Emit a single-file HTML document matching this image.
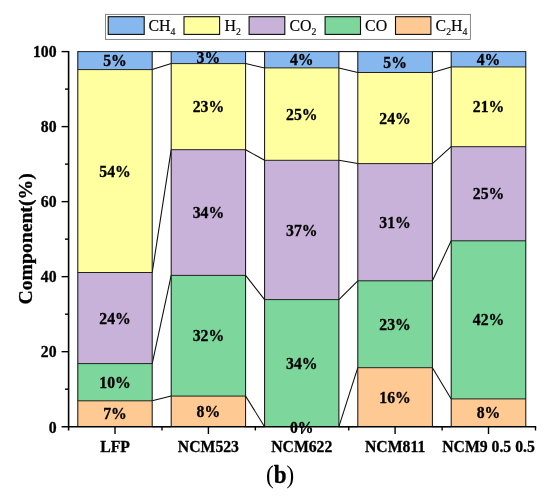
<!DOCTYPE html>
<html lang="en"><head><meta charset="utf-8"><title>Gas component chart (b)</title>
<style>html,body{margin:0;padding:0;background:#fff}body{width:550px;height:497px;overflow:hidden}svg{display:block}text{font-family:"Liberation Serif","Times New Roman",serif;fill:#000}.b{font-weight:bold;stroke:#000;stroke-width:0.3px}</style></head><body>
<svg width="550" height="497" viewBox="0 0 550 497">
<rect x="0" y="0" width="550" height="497" fill="#fff"/>
<rect x="105.5" y="14.4" width="364.9" height="25" fill="#fff" stroke="#7a7a7a" stroke-width="0.9"/>
<rect x="108.2" y="16.7" width="36.0" height="17.7" fill="#86b7ef" stroke="#0c0c0c" stroke-width="1.1"/>
<rect x="184.0" y="16.7" width="35.6" height="17.7" fill="#ffff9f" stroke="#0c0c0c" stroke-width="1.1"/>
<rect x="249.1" y="16.7" width="35.7" height="17.7" fill="#c8b2d9" stroke="#0c0c0c" stroke-width="1.1"/>
<rect x="325.1" y="16.7" width="35.4" height="17.7" fill="#7dd69b" stroke="#0c0c0c" stroke-width="1.1"/>
<rect x="395.5" y="16.7" width="35.4" height="17.7" fill="#ffc993" stroke="#0c0c0c" stroke-width="1.1"/>
<text x="148.4" y="31.1" font-size="15.9" stroke="#000" stroke-width="0.15"><tspan dy="0">CH</tspan><tspan dy="4.3" font-size="9.8">4</tspan></text>
<text x="224.6" y="31.1" font-size="15.9" stroke="#000" stroke-width="0.15"><tspan dy="0">H</tspan><tspan dy="4.3" font-size="9.8">2</tspan></text>
<text x="289.5" y="31.1" font-size="15.9" stroke="#000" stroke-width="0.15"><tspan dy="0">CO</tspan><tspan dy="4.3" font-size="9.8">2</tspan></text>
<text x="365.1" y="31.1" font-size="15.9" stroke="#000" stroke-width="0.15"><tspan dy="0">CO</tspan></text>
<text x="435.6" y="31.1" font-size="15.9" stroke="#000" stroke-width="0.15"><tspan dy="0">C</tspan><tspan dy="4.3" font-size="9.8">2</tspan><tspan dy="-4.3">H</tspan><tspan dy="4.3" font-size="9.8">4</tspan></text>
<line x1="152.2" y1="51.6" x2="171.2" y2="51.6" stroke="#0c0c0c" stroke-width="1.05"/>
<line x1="152.2" y1="69.6" x2="171.2" y2="63.6" stroke="#0c0c0c" stroke-width="1.05"/>
<line x1="152.2" y1="272.5" x2="171.2" y2="149.7" stroke="#0c0c0c" stroke-width="1.05"/>
<line x1="152.2" y1="363.6" x2="171.2" y2="275.4" stroke="#0c0c0c" stroke-width="1.05"/>
<line x1="152.2" y1="400.8" x2="171.2" y2="396.1" stroke="#0c0c0c" stroke-width="1.05"/>
<line x1="152.2" y1="426.7" x2="171.2" y2="426.7" stroke="#0c0c0c" stroke-width="1.05"/>
<line x1="245.6" y1="51.6" x2="264.6" y2="51.6" stroke="#0c0c0c" stroke-width="1.05"/>
<line x1="245.6" y1="63.6" x2="264.6" y2="67.9" stroke="#0c0c0c" stroke-width="1.05"/>
<line x1="245.6" y1="149.7" x2="264.6" y2="160.3" stroke="#0c0c0c" stroke-width="1.05"/>
<line x1="245.6" y1="275.4" x2="264.6" y2="299.6" stroke="#0c0c0c" stroke-width="1.05"/>
<line x1="245.6" y1="396.1" x2="264.6" y2="426.7" stroke="#0c0c0c" stroke-width="1.05"/>
<line x1="245.6" y1="426.7" x2="264.6" y2="426.7" stroke="#0c0c0c" stroke-width="1.05"/>
<line x1="338.9" y1="51.6" x2="357.8" y2="51.6" stroke="#0c0c0c" stroke-width="1.05"/>
<line x1="338.9" y1="67.9" x2="357.8" y2="72.5" stroke="#0c0c0c" stroke-width="1.05"/>
<line x1="338.9" y1="160.3" x2="357.8" y2="163.6" stroke="#0c0c0c" stroke-width="1.05"/>
<line x1="338.9" y1="299.6" x2="357.8" y2="280.8" stroke="#0c0c0c" stroke-width="1.05"/>
<line x1="338.9" y1="426.7" x2="357.8" y2="367.7" stroke="#0c0c0c" stroke-width="1.05"/>
<line x1="338.9" y1="426.7" x2="357.8" y2="426.7" stroke="#0c0c0c" stroke-width="1.05"/>
<line x1="432.4" y1="51.6" x2="451.2" y2="51.6" stroke="#0c0c0c" stroke-width="1.05"/>
<line x1="432.4" y1="72.5" x2="451.2" y2="66.95" stroke="#0c0c0c" stroke-width="1.05"/>
<line x1="432.4" y1="163.6" x2="451.2" y2="146.7" stroke="#0c0c0c" stroke-width="1.05"/>
<line x1="432.4" y1="280.8" x2="451.2" y2="240.8" stroke="#0c0c0c" stroke-width="1.05"/>
<line x1="432.4" y1="367.7" x2="451.2" y2="398.9" stroke="#0c0c0c" stroke-width="1.05"/>
<line x1="432.4" y1="426.7" x2="451.2" y2="426.7" stroke="#0c0c0c" stroke-width="1.05"/>
<rect x="77.8" y="51.6" width="74.4" height="18.00" fill="#86b7ef"/>
<rect x="77.8" y="69.6" width="74.4" height="202.90" fill="#ffff9f"/>
<rect x="77.8" y="272.5" width="74.4" height="91.10" fill="#c8b2d9"/>
<rect x="77.8" y="363.6" width="74.4" height="37.20" fill="#7dd69b"/>
<rect x="77.8" y="400.8" width="74.4" height="25.90" fill="#ffc993"/>
<line x1="77.8" y1="51.6" x2="152.2" y2="51.6" stroke="#0c0c0c" stroke-width="0.9"/>
<line x1="77.8" y1="69.6" x2="152.2" y2="69.6" stroke="#0c0c0c" stroke-width="0.9"/>
<line x1="77.8" y1="272.5" x2="152.2" y2="272.5" stroke="#0c0c0c" stroke-width="0.9"/>
<line x1="77.8" y1="363.6" x2="152.2" y2="363.6" stroke="#0c0c0c" stroke-width="0.9"/>
<line x1="77.8" y1="400.8" x2="152.2" y2="400.8" stroke="#0c0c0c" stroke-width="0.9"/>
<line x1="77.8" y1="51.15" x2="77.8" y2="426.7" stroke="#0c0c0c" stroke-width="1.0"/>
<line x1="152.2" y1="51.15" x2="152.2" y2="426.7" stroke="#0c0c0c" stroke-width="1.0"/>
<rect x="171.2" y="51.6" width="74.4" height="12.00" fill="#86b7ef"/>
<rect x="171.2" y="63.6" width="74.4" height="86.10" fill="#ffff9f"/>
<rect x="171.2" y="149.7" width="74.4" height="125.70" fill="#c8b2d9"/>
<rect x="171.2" y="275.4" width="74.4" height="120.70" fill="#7dd69b"/>
<rect x="171.2" y="396.1" width="74.4" height="30.60" fill="#ffc993"/>
<line x1="171.2" y1="51.6" x2="245.6" y2="51.6" stroke="#0c0c0c" stroke-width="0.9"/>
<line x1="171.2" y1="63.6" x2="245.6" y2="63.6" stroke="#0c0c0c" stroke-width="0.9"/>
<line x1="171.2" y1="149.7" x2="245.6" y2="149.7" stroke="#0c0c0c" stroke-width="0.9"/>
<line x1="171.2" y1="275.4" x2="245.6" y2="275.4" stroke="#0c0c0c" stroke-width="0.9"/>
<line x1="171.2" y1="396.1" x2="245.6" y2="396.1" stroke="#0c0c0c" stroke-width="0.9"/>
<line x1="171.2" y1="51.15" x2="171.2" y2="426.7" stroke="#0c0c0c" stroke-width="1.0"/>
<line x1="245.6" y1="51.15" x2="245.6" y2="426.7" stroke="#0c0c0c" stroke-width="1.0"/>
<rect x="264.6" y="51.6" width="74.3" height="16.30" fill="#86b7ef"/>
<rect x="264.6" y="67.9" width="74.3" height="92.40" fill="#ffff9f"/>
<rect x="264.6" y="160.3" width="74.3" height="139.30" fill="#c8b2d9"/>
<rect x="264.6" y="299.6" width="74.3" height="127.10" fill="#7dd69b"/>
<line x1="264.6" y1="51.6" x2="338.9" y2="51.6" stroke="#0c0c0c" stroke-width="0.9"/>
<line x1="264.6" y1="67.9" x2="338.9" y2="67.9" stroke="#0c0c0c" stroke-width="0.9"/>
<line x1="264.6" y1="160.3" x2="338.9" y2="160.3" stroke="#0c0c0c" stroke-width="0.9"/>
<line x1="264.6" y1="299.6" x2="338.9" y2="299.6" stroke="#0c0c0c" stroke-width="0.9"/>
<line x1="264.6" y1="51.15" x2="264.6" y2="426.7" stroke="#0c0c0c" stroke-width="1.0"/>
<line x1="338.9" y1="51.15" x2="338.9" y2="426.7" stroke="#0c0c0c" stroke-width="1.0"/>
<rect x="357.8" y="51.6" width="74.6" height="20.90" fill="#86b7ef"/>
<rect x="357.8" y="72.5" width="74.6" height="91.10" fill="#ffff9f"/>
<rect x="357.8" y="163.6" width="74.6" height="117.20" fill="#c8b2d9"/>
<rect x="357.8" y="280.8" width="74.6" height="86.90" fill="#7dd69b"/>
<rect x="357.8" y="367.7" width="74.6" height="59.00" fill="#ffc993"/>
<line x1="357.8" y1="51.6" x2="432.4" y2="51.6" stroke="#0c0c0c" stroke-width="0.9"/>
<line x1="357.8" y1="72.5" x2="432.4" y2="72.5" stroke="#0c0c0c" stroke-width="0.9"/>
<line x1="357.8" y1="163.6" x2="432.4" y2="163.6" stroke="#0c0c0c" stroke-width="0.9"/>
<line x1="357.8" y1="280.8" x2="432.4" y2="280.8" stroke="#0c0c0c" stroke-width="0.9"/>
<line x1="357.8" y1="367.7" x2="432.4" y2="367.7" stroke="#0c0c0c" stroke-width="0.9"/>
<line x1="357.8" y1="51.15" x2="357.8" y2="426.7" stroke="#0c0c0c" stroke-width="1.0"/>
<line x1="432.4" y1="51.15" x2="432.4" y2="426.7" stroke="#0c0c0c" stroke-width="1.0"/>
<rect x="451.2" y="51.6" width="74.6" height="15.35" fill="#86b7ef"/>
<rect x="451.2" y="66.95" width="74.6" height="79.75" fill="#ffff9f"/>
<rect x="451.2" y="146.7" width="74.6" height="94.10" fill="#c8b2d9"/>
<rect x="451.2" y="240.8" width="74.6" height="158.10" fill="#7dd69b"/>
<rect x="451.2" y="398.9" width="74.6" height="27.80" fill="#ffc993"/>
<line x1="451.2" y1="51.6" x2="525.8" y2="51.6" stroke="#0c0c0c" stroke-width="0.9"/>
<line x1="451.2" y1="66.95" x2="525.8" y2="66.95" stroke="#0c0c0c" stroke-width="0.9"/>
<line x1="451.2" y1="146.7" x2="525.8" y2="146.7" stroke="#0c0c0c" stroke-width="0.9"/>
<line x1="451.2" y1="240.8" x2="525.8" y2="240.8" stroke="#0c0c0c" stroke-width="0.9"/>
<line x1="451.2" y1="398.9" x2="525.8" y2="398.9" stroke="#0c0c0c" stroke-width="0.9"/>
<line x1="451.2" y1="51.15" x2="451.2" y2="426.7" stroke="#0c0c0c" stroke-width="1.0"/>
<line x1="525.8" y1="51.15" x2="525.8" y2="426.7" stroke="#0c0c0c" stroke-width="1.0"/>
<line x1="68.6" y1="50.9" x2="68.6" y2="430.5" stroke="#000" stroke-width="1.6"/>
<line x1="61.599999999999994" y1="426.7" x2="536.2" y2="426.7" stroke="#000" stroke-width="1.35"/>
<text class="b" transform="translate(56.5,432.60) scale(0.96,1)" font-size="16.4" text-anchor="end">0</text>
<line x1="65.0" y1="389.19" x2="68.6" y2="389.19" stroke="#000" stroke-width="1.4"/>
<line x1="61.599999999999994" y1="351.68" x2="68.6" y2="351.68" stroke="#000" stroke-width="1.4"/>
<text class="b" transform="translate(56.5,357.48) scale(0.96,1)" font-size="16.4" text-anchor="end">20</text>
<line x1="65.0" y1="314.17" x2="68.6" y2="314.17" stroke="#000" stroke-width="1.4"/>
<line x1="61.599999999999994" y1="276.66" x2="68.6" y2="276.66" stroke="#000" stroke-width="1.4"/>
<text class="b" transform="translate(56.5,282.36) scale(0.96,1)" font-size="16.4" text-anchor="end">40</text>
<line x1="65.0" y1="239.15" x2="68.6" y2="239.15" stroke="#000" stroke-width="1.4"/>
<line x1="61.599999999999994" y1="201.64" x2="68.6" y2="201.64" stroke="#000" stroke-width="1.4"/>
<text class="b" transform="translate(56.5,207.24) scale(0.96,1)" font-size="16.4" text-anchor="end">60</text>
<line x1="65.0" y1="164.13" x2="68.6" y2="164.13" stroke="#000" stroke-width="1.4"/>
<line x1="61.599999999999994" y1="126.62" x2="68.6" y2="126.62" stroke="#000" stroke-width="1.4"/>
<text class="b" transform="translate(56.5,132.12) scale(0.96,1)" font-size="16.4" text-anchor="end">80</text>
<line x1="65.0" y1="89.11" x2="68.6" y2="89.11" stroke="#000" stroke-width="1.4"/>
<line x1="61.599999999999994" y1="51.60" x2="68.6" y2="51.60" stroke="#000" stroke-width="1.4"/>
<text class="b" transform="translate(56.5,57.00) scale(0.96,1)" font-size="16.4" text-anchor="end">100</text>
<line x1="115.00" y1="426.7" x2="115.00" y2="434.0" stroke="#000" stroke-width="1.4"/>
<text class="b" transform="translate(115.00,452.3) scale(0.96,1)" font-size="16.4" text-anchor="middle">LFP</text>
<line x1="208.40" y1="426.7" x2="208.40" y2="434.0" stroke="#000" stroke-width="1.4"/>
<text class="b" transform="translate(208.40,452.3) scale(0.96,1)" font-size="16.4" text-anchor="middle">NCM523</text>
<line x1="301.75" y1="426.7" x2="301.75" y2="434.0" stroke="#000" stroke-width="1.4"/>
<text class="b" transform="translate(301.75,452.3) scale(0.96,1)" font-size="16.4" text-anchor="middle">NCM622</text>
<line x1="395.10" y1="426.7" x2="395.10" y2="434.0" stroke="#000" stroke-width="1.4"/>
<text class="b" transform="translate(395.10,452.3) scale(0.96,1)" font-size="16.4" text-anchor="middle">NCM811</text>
<line x1="488.50" y1="426.7" x2="488.50" y2="434.0" stroke="#000" stroke-width="1.4"/>
<text class="b" transform="translate(488.50,452.3) scale(0.96,1)" font-size="16.4" text-anchor="middle">NCM9 0.5 0.5</text>
<line x1="161.98" y1="426.7" x2="161.98" y2="430.5" stroke="#000" stroke-width="1.4"/>
<line x1="255.36" y1="426.7" x2="255.36" y2="430.5" stroke="#000" stroke-width="1.4"/>
<line x1="348.74" y1="426.7" x2="348.74" y2="430.5" stroke="#000" stroke-width="1.4"/>
<line x1="442.12" y1="426.7" x2="442.12" y2="430.5" stroke="#000" stroke-width="1.4"/>
<line x1="535.50" y1="426.7" x2="535.50" y2="430.5" stroke="#000" stroke-width="1.4"/>
<text class="b" transform="translate(115.00,66.20) scale(0.96,1)" font-size="16.4" text-anchor="middle">5%</text>
<text class="b" transform="translate(115.00,176.65) scale(0.96,1)" font-size="16.4" text-anchor="middle">54%</text>
<text class="b" transform="translate(115.00,323.65) scale(0.96,1)" font-size="16.4" text-anchor="middle">24%</text>
<text class="b" transform="translate(115.00,387.80) scale(0.96,1)" font-size="16.4" text-anchor="middle">10%</text>
<text class="b" transform="translate(115.00,419.35) scale(0.96,1)" font-size="16.4" text-anchor="middle">7%</text>
<text class="b" transform="translate(208.40,63.20) scale(0.96,1)" font-size="16.4" text-anchor="middle">3%</text>
<text class="b" transform="translate(208.40,112.25) scale(0.96,1)" font-size="16.4" text-anchor="middle">23%</text>
<text class="b" transform="translate(208.40,218.15) scale(0.96,1)" font-size="16.4" text-anchor="middle">34%</text>
<text class="b" transform="translate(208.40,341.35) scale(0.96,1)" font-size="16.4" text-anchor="middle">32%</text>
<text class="b" transform="translate(208.40,417.00) scale(0.96,1)" font-size="16.4" text-anchor="middle">8%</text>
<text class="b" transform="translate(301.75,65.35) scale(0.96,1)" font-size="16.4" text-anchor="middle">4%</text>
<text class="b" transform="translate(301.75,119.70) scale(0.96,1)" font-size="16.4" text-anchor="middle">25%</text>
<text class="b" transform="translate(301.75,235.55) scale(0.96,1)" font-size="16.4" text-anchor="middle">37%</text>
<text class="b" transform="translate(301.75,368.75) scale(0.96,1)" font-size="16.4" text-anchor="middle">34%</text>
<text class="b" transform="translate(301.75,433.10) scale(0.96,1)" font-size="16.4" text-anchor="middle">0%</text>
<text class="b" transform="translate(395.10,67.65) scale(0.96,1)" font-size="16.4" text-anchor="middle">5%</text>
<text class="b" transform="translate(395.10,123.65) scale(0.96,1)" font-size="16.4" text-anchor="middle">24%</text>
<text class="b" transform="translate(395.10,227.80) scale(0.96,1)" font-size="16.4" text-anchor="middle">31%</text>
<text class="b" transform="translate(395.10,329.85) scale(0.96,1)" font-size="16.4" text-anchor="middle">23%</text>
<text class="b" transform="translate(395.10,402.80) scale(0.96,1)" font-size="16.4" text-anchor="middle">16%</text>
<text class="b" transform="translate(488.50,64.88) scale(0.96,1)" font-size="16.4" text-anchor="middle">4%</text>
<text class="b" transform="translate(488.50,112.42) scale(0.96,1)" font-size="16.4" text-anchor="middle">21%</text>
<text class="b" transform="translate(488.50,199.35) scale(0.96,1)" font-size="16.4" text-anchor="middle">25%</text>
<text class="b" transform="translate(488.50,325.45) scale(0.96,1)" font-size="16.4" text-anchor="middle">42%</text>
<text class="b" transform="translate(488.50,418.40) scale(0.96,1)" font-size="16.4" text-anchor="middle">8%</text>
<text class="b" transform="translate(31.8,238.9) rotate(-90) scale(1,1.01)" font-size="19.7" text-anchor="middle">Component(%)</text>
<text transform="translate(266,482.6) scale(1,1.05)" font-size="23.1">(<tspan class="b">b</tspan>)</text>
</svg></body></html>
